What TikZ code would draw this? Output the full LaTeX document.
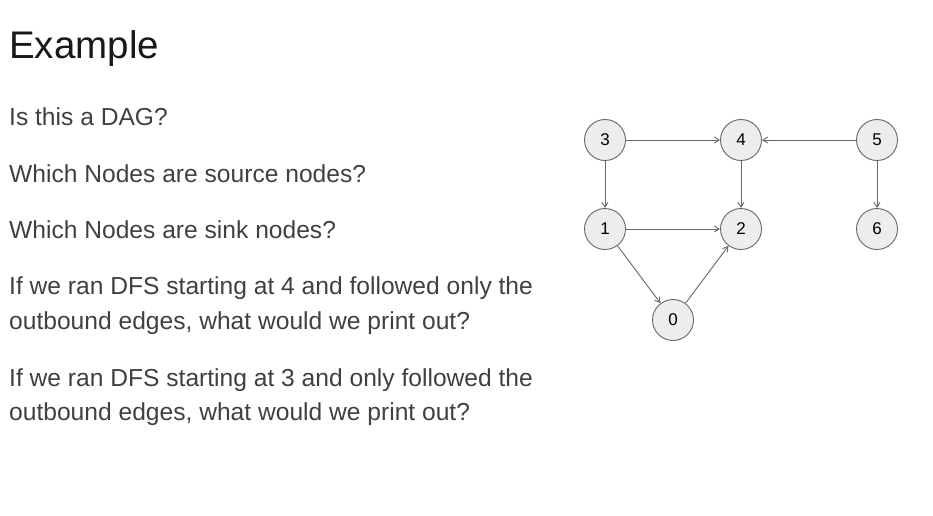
\documentclass[tikz,border=0pt]{standalone}
\usepackage{fontspec}
\setmainfont{Liberation Sans}
\usetikzlibrary{arrows.meta}
\definecolor{txt}{HTML}{404040}
\tikzset{
  vert/.style={circle,draw=black!60,fill=black!7,minimum size=41pt,inner sep=0pt,font=\fontsize{17}{17}\selectfont,line width=0.9pt},
  edge/.style={draw=black!60,line width=0.9pt,-{Straight Barb[length=5pt,width=6pt]}},
  body/.style={anchor=base west,inner sep=0pt,text=txt,font=\fontsize{24.6}{28}\selectfont}
}
\begin{document}
\begin{tikzpicture}[x=1pt,y=-1pt]
\useasboundingbox (0,0) rectangle (933,515);
\node[anchor=base west,inner sep=0pt,font=\fontsize{38.5}{42}\selectfont,text=black!90] (title) at (9,58) {Example};
\node[body] (q1) at (9,125) {Is this a DAG?};
\node[body] (q2) at (9,182) {Which Nodes are source nodes?};
\node[body] (q3) at (9,238) {Which Nodes are sink nodes?};
\node[body] (q4a) at (9,294) {If we ran DFS starting at 4 and followed only the};
\node[body] (q4b) at (9,329) {outbound edges, what would we print out?};
\node[body] (q5a) at (9,386) {If we ran DFS starting at 3 and only followed the};
\node[body] (q5b) at (9,420) {outbound edges, what would we print out?};
\node[vert] (n3) at (605,140) {3};
\node[vert] (n4) at (741,140) {4};
\node[vert] (n5) at (877,140) {5};
\node[vert] (n1) at (605,229) {1};
\node[vert] (n2) at (741,229) {2};
\node[vert] (n6) at (877,229) {6};
\node[vert] (n0) at (673,320) {0};
\draw[edge] (n3) -- (n4);
\draw[edge] (n5) -- (n4);
\draw[edge] (n3) -- (n1);
\draw[edge] (n4) -- (n2);
\draw[edge] (n5) -- (n6);
\draw[edge] (n1) -- (n2);
\draw[edge] (n1) -- (n0);
\draw[edge] (n0) -- (n2);
\end{tikzpicture}
\end{document}
